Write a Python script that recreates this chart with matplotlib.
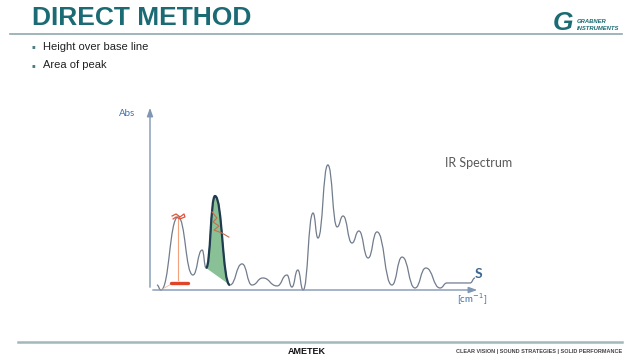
import matplotlib.pyplot as plt
from matplotlib.path import Path
from matplotlib.patches import PathPatch

# spectrum extrema (position, absorbance)
spec_x = [2.1, 3.3, 8.5, 13.0, 15.8, 17.0, 19.7, 24.2, 27.9, 30.9, 34.2, 38.5,
          41.5, 43.0, 44.8, 46.4, 49.4, 50.9, 53.9, 56.7, 58.5, 61.2, 63.3,
          66.1, 68.8, 73.3, 76.4, 80.3, 83.6, 87.9, 90.0, 97.0, 98.5]
spec_y = [2.7, 0.0, 39.5, 8.1, 21.6, 11.9, 50.8, 2.7, 14.1, 2.7, 6.5, 2.2,
          8.1, 1.6, 10.8, 0.0, 41.6, 28.1, 67.6, 34.1, 40.0, 25.4, 31.9,
          17.3, 31.4, 2.7, 17.8, 1.1, 11.9, 1.1, 3.8, 3.8, 6.5]

# index range of the peak whose area is shaded
area_start, area_end = 5, 7

# hand-drawn marks on the slide
loop_x = [6.7, 7.9, 9.1, 10.3, 10.6, 9.1, 7.9, 7.0]
loop_y = [40.0, 41.1, 39.5, 41.1, 39.5, 38.4, 39.5, 38.4]
zig_x = [18.8, 20.3, 19.1, 20.9, 19.4, 21.8, 23.9]
zig_y = [42.2, 38.9, 36.8, 34.6, 32.4, 30.8, 28.6]
height_x = 8.5
height_top, height_base = 39.5, 5.4
base_bar = (6.4, 11.5, 3.8)

bullets = ["Height over base line", "Area of peak"]
footer = "CLEAR VISION | SOUND STRATEGIES | SOLID PERFORMANCE"

teal = '#1a6b74'
axis_blue = '#7f97b5'
text_blue = '#3d72a8'


def smooth_path(xs, ys, i0, i1, k=0.5):
    verts = [(xs[i0], ys[i0])]
    codes = [Path.MOVETO]
    for i in range(i0, i1):
        dx = xs[i + 1] - xs[i]
        verts += [(xs[i] + k * dx, ys[i]), (xs[i + 1] - k * dx, ys[i + 1]),
                  (xs[i + 1], ys[i + 1])]
        codes += [Path.CURVE4] * 3
    return verts, codes


fig = plt.figure(figsize=(6.4, 3.6), dpi=100)
bg = fig.add_axes([0, 0, 1, 1])
bg.set_xlim(0, 640)
bg.set_ylim(360, 0)
bg.axis('off')

# header
bg.text(32, 18, 'DIRECT METHOD', fontsize=19, fontweight='bold', color=teal,
        family='Liberation Sans', ha='left', va='center')
bg.plot([10, 622], [34, 34], color='#8fa9ad', lw=1.2)
for i, b in enumerate(bullets):
    y = 47 + i * 18.5
    bg.text(33, y, '\u25aa', fontsize=4, color='#4a7f86', ha='center', va='center')
    bg.text(43, y, b, fontsize=8, color='#222222', family='Liberation Sans',
            ha='left', va='center')

# logo
bg.text(563, 23, 'G', fontsize=19, fontweight='bold', style='italic', color=teal,
        family='Liberation Sans', ha='center', va='center')
bg.text(577, 21.5, 'GRABNER', fontsize=4.2, fontweight='bold', style='italic',
        color=teal, family='Liberation Sans', ha='left', va='center')
bg.text(577, 28.5, 'INSTRUMENTS', fontsize=4.2, fontweight='bold', style='italic',
        color=teal, family='Liberation Sans', ha='left', va='center')

# footer
bg.plot([18, 622], [342, 342], color='#a3b8bb', lw=1.8)
bg.text(307, 351, 'AMETEK', fontsize=6.5, fontweight='bold', color='#111111',
        family='Liberation Sans', ha='center', va='center')
bg.text(622, 351, footer, fontsize=4, fontweight='bold', color='#444444',
        family='Liberation Sans', ha='right', va='center')

# chart texts
bg.text(127, 113, 'Abs', fontsize=7, color=text_blue, family='Lato',
        ha='center', va='center')
bg.text(445, 163, 'IR Spectrum', fontsize=9, color='#595959', family='Lato',
        ha='left', va='center')
bg.text(478, 274, 'S', fontsize=10, fontweight='bold', color='#3a6690',
        family='Lato', ha='center', va='center')
bg.text(472, 299, '[cm$^{-1}$]', fontsize=7, color=text_blue, family='Lato',
        ha='center', va='center')

# spectrum axes
ax = fig.add_axes([150 / 640, 70 / 360, 330 / 640, 185 / 360])
ax.set_xlim(0, 100)
ax.set_ylim(0, 100)
ax.axis('off')

arrow = dict(arrowstyle='-|>,head_length=0.5,head_width=0.18', color=axis_blue, lw=1)
ax.annotate('', xy=(0, 100), xytext=(0, 0), arrowprops=arrow, annotation_clip=False)
ax.annotate('', xy=(100, 0), xytext=(0, 0), arrowprops=arrow, annotation_clip=False)

# shaded area of the peak
v, c = smooth_path(spec_x, spec_y, area_start, area_end)
v += [(spec_x[area_start], spec_y[area_start]), (0, 0)]
c += [Path.LINETO, Path.CLOSEPOLY]
ax.add_patch(PathPatch(Path(v, c), facecolor='#7cb98a', edgecolor='none', alpha=0.9))

v, c = smooth_path(spec_x, spec_y, 0, len(spec_x) - 1)
ax.add_patch(PathPatch(Path(v, c), facecolor='none', edgecolor='#717c8c', lw=0.9,
                       clip_on=False))
v, c = smooth_path(spec_x, spec_y, area_start, area_end)
ax.add_patch(PathPatch(Path(v, c), facecolor='none', edgecolor='#1f3c4e', lw=1.6))

# hand-drawn marks
ax.plot([height_x, height_x], [height_top, height_base], color='#f2a27c', lw=0.8)
ax.plot([spec_x[1], base_bar[0]], [spec_y[1], base_bar[2] - 0.6], color='#f2b898', lw=0.6)
ax.plot(base_bar[:2], [base_bar[2]] * 2, color='#e0452a', lw=2.4, solid_capstyle='round')
ax.plot(loop_x, loop_y, color='#e0553a', lw=0.9)
ax.plot(zig_x, zig_y, color='#c4704c', lw=0.8)

plt.savefig('out.png', dpi=100)
